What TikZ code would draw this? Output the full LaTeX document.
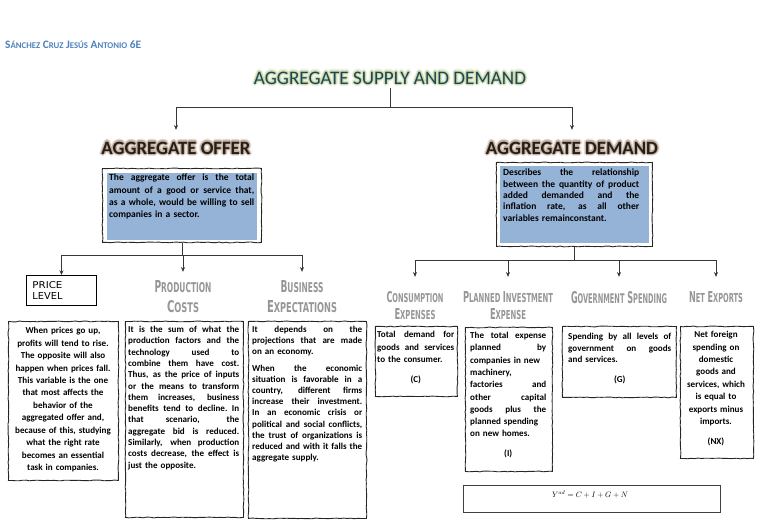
\documentclass[tikz,border=0pt]{standalone}
\usepackage{fontspec}
\usepackage{graphicx}
\setmainfont{Carlito}
\newfontfamily\skf{DejaVu Sans}
\usetikzlibrary{arrows.meta,decorations.pathmorphing}
\newlength\px \setlength\px{0.85pt}
\newlength\glowr
\newlength\jw
\definecolor{blueA}{RGB}{149,179,215}
\definecolor{authorblue}{RGB}{79,129,189}
\definecolor{titleteal}{RGB}{24,70,90}
\definecolor{titleglowA}{RGB}{236,240,220}
\definecolor{titleglowC}{RGB}{208,218,170}
\definecolor{headglowA}{RGB}{234,228,222}
\definecolor{headglowC}{RGB}{196,178,160}
\definecolor{headtext}{RGB}{38,30,26}
\definecolor{sketchgray}{RGB}{150,150,150}
\definecolor{linecol}{RGB}{55,55,55}
\newcommand\glowring[3]{\setlength\glowr{#2}%
  \foreach \dx/\dy in {1/0,0.7/0.7,0/1,-0.7/0.7,-1/0,-0.7/-0.7,0/-1,0.7/-0.7}{\rlap{\kern\dx\glowr\raisebox{\dy\glowr}{\textcolor{#1}{#3}}}}}
\newcommand\glowtext[4]{\glowring{#1}{1.8pt}{#4}\glowring{#2}{0.9pt}{#4}\textcolor{#3}{#4}}
\newcommand\scap[2]{{\fontsize{7}{8}\selectfont #1}{\fontsize{5.4}{6}\selectfont #2}}
\newcommand\jl[1]{\leavevmode\hbox to\jw{\spaceskip=0.23em plus 1fil minus 0.08em\relax #1}\\}
\newcommand\skt[3]{\resizebox{#1\px}{#2\px}{\skf\bfseries #3}}
\newcommand\skcap[2]{{\fontsize{10}{10}\selectfont #1}{\fontsize{8.2}{10}\selectfont #2}}
\tikzset{
  sbox/.style={draw=black!85, line width=0.75pt, decorate,
    decoration={random steps, segment length=3pt, amplitude=0.35pt},
    anchor=north west, inner sep=0pt},
  body/.style={inner sep=0pt, anchor=north west, align=left, text=black,
    font=\fontsize{7.7}{#1}\selectfont\bfseries},
  bodyc/.style={inner sep=0pt, anchor=north, align=center, text=black,
    font=\fontsize{7.7}{#1}\selectfont\bfseries},
  skhead/.style={inner sep=0pt, align=center, text=sketchgray},
  conn/.style={draw=linecol, line width=0.6pt},
  arr/.style={conn, -{Stealth[length=4pt,width=3.4pt]}},
}
\begin{document}
\begin{tikzpicture}[x=0.85pt,y=-0.85pt]
\pgfmathsetseed{7}
\useasboundingbox (0,0) rectangle (768,525);
\fill[white] (0,0) rectangle (768,525);

% author
\node[anchor=base west, inner sep=0pt, text=authorblue, font=\fontsize{7}{8}\selectfont\bfseries] (author) at (5,48)
  {\resizebox{136\px}{!}{\scap{S}{ÁNCHEZ} \scap{C}{RUZ} \scap{J}{ESÚS} \scap{A}{NTONIO} 6E}};

% title
\node[inner sep=0pt, minimum height=20\px, font=\fontsize{15.8}{18}\selectfont] (title) at (390,78)
  {\resizebox{272\px}{!}{\glowtext{titleglowA}{titleglowC}{titleteal}{AGGREGATE SUPPLY AND DEMAND}}};

% main headings
\node[inner sep=0pt, minimum height=36\px, font=\fontsize{15}{18}\selectfont\bfseries] (ao) at (176,148)
  {\resizebox{149\px}{!}{\glowtext{headglowA}{headglowC}{headtext}{AGGREGATE OFFER}}};
\node[inner sep=0pt, minimum height=36\px, font=\fontsize{15}{18}\selectfont\bfseries] (ad) at (572,148)
  {\resizebox{172\px}{!}{\glowtext{headglowA}{headglowC}{headtext}{AGGREGATE DEMAND}}};

\draw[arr] (title.south) -- ++(0,19) -| (ao.north);
\draw[arr] (title.south) -- ++(0,19) -| (ad.north);

% offer definition box
\node[fill=blueA, anchor=north west, inner sep=0pt, minimum width=150\px, minimum height=67\px] (offerfill) at (107,173) {};
\node[sbox, minimum width=159\px, minimum height=74\px] (offerbox) at (102,168) {};
\setlength\jw{145\px}
\node[body=10.45pt, text width=145\px, font=\fontsize{8.1}{10.45pt}\selectfont\bfseries] (offertxt) at (109,174)
  {\jl{The aggregate offer is the total}\jl{amount of a good or service that,}\jl{as a whole, would be willing to sell}companies in a sector.};

% demand definition box
\node[fill=blueA, anchor=north west, inner sep=0pt, minimum width=149\px, minimum height=77\px] (demandfill) at (500,166) {};
\node[sbox, minimum width=156\px, minimum height=84\px] (demandbox) at (496,162) {};
\setlength\jw{136\px}
\node[body=9.6pt, text width=136\px, font=\fontsize{8.1}{9.6pt}\selectfont\bfseries] (demandtxt) at (503,169)
  {\jl{Describes the relationship}\jl{between the quantity of product}\jl{added demanded and the}\jl{inflation rate, as all other}variables remainconstant.};

% offer sub headings
\node[draw=black, line width=0.8pt, anchor=north west, minimum width=70\px, minimum height=30\px,
      inner sep=0pt, text width=58\px, align=left, font=\fontsize{8}{9.35pt}\selectfont] (pl) at (26,275)
  {\resizebox{30\px}{7\px}{\skf PRICE}\\\resizebox{30\px}{7\px}{\skf LEVEL}};
\node[skhead, minimum height=49\px, font=\fontsize{8}{17pt}\selectfont] (prod) at (183,296.5)
  {\skt{57}{12}{\skcap{P}{RODUCTION}}\\\skt{32}{12}{\skcap{C}{OSTS}}};
\node[skhead, minimum height=49\px, font=\fontsize{8}{17pt}\selectfont] (bus) at (302,296.5)
  {\skt{43}{12}{\skcap{B}{USINESS}}\\\skt{70}{12}{\skcap{E}{XPECTATIONS}}};

\draw[arr] (offerbox.south) -- ++(0,12) -| (pl.north);
\draw[arr] (offerbox.south) -- ++(0,12) -| (prod.north);
\draw[arr] (offerbox.south) -- ++(0,12) -| (bus.north);

% demand sub headings
\node[skhead, minimum height=58\px, font=\fontsize{8}{14.45pt}\selectfont] (cons) at (415,306)
  {\skt{57}{11}{\skcap{C}{ONSUMPTION}}\\\skt{41}{11}{\skcap{E}{XPENSES}}};
\node[skhead, minimum height=58\px, font=\fontsize{8}{14.45pt}\selectfont] (plan) at (508,306)
  {\skt{90}{11}{\skcap{P}{LANNED} \skcap{I}{NVESTMENT}}\\\skt{36}{11}{\skcap{E}{XPENSE}}};
\node[skhead, minimum height=42\px] (gov) at (619,298)
  {\skt{96}{12}{\skcap{G}{OVERNMENT} \skcap{S}{PENDING}}};
\node[skhead, minimum height=40\px] (nx) at (716,297)
  {\skt{54}{11}{\skcap{N}{ET} \skcap{E}{XPORTS}}};

\draw[arr] (demandbox.south) -- ++(0,13) -| (cons.north);
\draw[arr] (demandbox.south) -- ++(0,13) -| (plan.north);
\draw[arr] (demandbox.south) -- ++(0,13) -| (gov.north);
\draw[arr] (demandbox.south) -- ++(0,13) -| (nx.north);

% text boxes
\node[sbox, minimum width=110\px, minimum height=159\px] (b1) at (8,321) {};
\node[sbox, minimum width=118\px, minimum height=196\px] (b2) at (125,321) {};
\node[sbox, minimum width=118\px, minimum height=197\px] (b3) at (248,321) {};
\node[sbox, minimum width=82\px, minimum height=70\px] (b4) at (375,326) {};
\node[sbox, minimum width=87\px, minimum height=144\px] (b5) at (465,327) {};
\node[sbox, minimum width=114\px, minimum height=71\px] (b6) at (562,326) {};
\node[sbox, minimum width=73\px, minimum height=132\px] (b7) at (680,326) {};

\node[bodyc=10.6pt, text width=108\px] (t1) at (63,327)
  {When prices go up,\\profits will tend to rise.\\The opposite will also\\happen when prices fall.\\This variable is the one\\that most affects the\\behavior of the\\aggregated offer and,\\because of this, studying\\what the right rate\\becomes an essential\\task in companies.};

\setlength\jw{111\px}
\node[body=9.6pt, text width=111\px] (t2) at (128,326)
  {\jl{It is the sum of what the}\jl{production factors and the}\jl{technology used to}\jl{combine them have cost.}\jl{Thus, as the price of inputs}\jl{or the means to transform}\jl{them increases, business}\jl{benefits tend to decline. In}\jl{that scenario, the}\jl{aggregate bid is reduced.}\jl{Similarly, when production}\jl{costs decrease, the effect is}just the opposite.};

\setlength\jw{110\px}
\node[body=9.5pt, text width=110\px] (t3) at (252,326)
  {\jl{It depends on the}\jl{projections that are made}on an economy.\\[5\px]\jl{When the economic}\jl{situation is favorable in a}\jl{country, different firms}\jl{increase their investment.}\jl{In an economic crisis or}\jl{political and social conflicts,}\jl{the trust of organizations is}\jl{reduced and with it falls the}aggregate supply.};

\setlength\jw{77\px}
\node[body=10.6pt, text width=77\px] (t4) at (377,331)
  {\jl{Total demand for}\jl{goods and services}to the consumer.\\[7.5\px]\makebox[\jw][c]{(C)}};

\setlength\jw{76\px}
\node[body=10.45pt, text width=76\px] (t5) at (470,332)
  {\jl{The total expense}\jl{planned by}companies in new\\machinery,\\\jl{factories and}\jl{other capital}\jl{goods plus the}planned spending\\on new homes.\\[7.3\px]\makebox[\jw][c]{(I)}};

\setlength\jw{103\px}
\node[body=9.8pt, text width=103\px] (t6) at (568,333)
  {\jl{Spending by all levels of}\jl{government on goods}and services.\\[8.5\px]\makebox[\jw][c]{(G)}};

\node[bodyc=10.55pt, text width=68\px] (t7) at (716,331)
  {Net foreign\\spending on\\domestic\\goods and\\services, which\\is equal to\\exports minus\\imports.\\[7.6\px](NX)};

% formula
\node[draw=black!75, line width=0.6pt, anchor=north west, inner sep=0pt, minimum width=257\px, minimum height=27\px] (fbox) at (463,485) {};
\node[inner sep=0pt] (ftxt) at (590,494) {\resizebox{76\px}{!}{$Y^{ad} = C + I + G + N$}};
\end{tikzpicture}
\end{document}
